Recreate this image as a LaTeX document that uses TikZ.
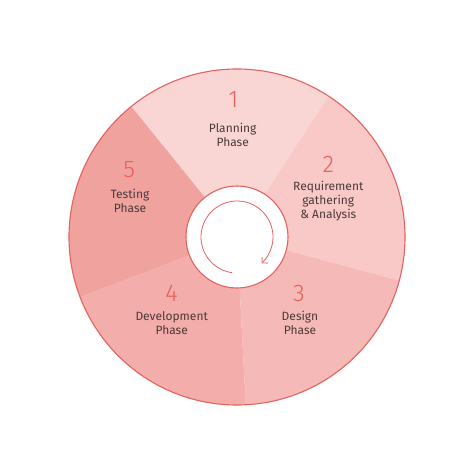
\documentclass[tikz,border=0pt]{standalone}
\usepackage{fontspec}
\setmainfont{Fira Sans}
\newfontfamily\numfont{Fira Sans Light}
\usetikzlibrary{arrows.meta}
\definecolor{segA}{HTML}{F9D6D4}
\definecolor{segB}{HTML}{F8C9C6}
\definecolor{segC}{HTML}{F5BAB7}
\definecolor{segD}{HTML}{F3ADAA}
\definecolor{segE}{HTML}{F0A29E}
\definecolor{rim}{HTML}{E5625E}
\definecolor{numcol}{HTML}{E8605B}
\definecolor{txt}{HTML}{4B3A3A}
\tikzset{
  numlabel/.style={text=numcol, font=\numfont\fontsize{24}{24}\selectfont, inner sep=0pt},
  phaselabel/.style={text=txt, font=\fontsize{12}{14}\selectfont, align=center, inner sep=0pt},
  wedge/.style={draw=none},
}
\begin{document}
\begin{tikzpicture}[x=1pt,y=1pt]
\useasboundingbox[fill=white] (-237,-237) rectangle (237,237);
% wedges
\fill[segA] (0,0) -- (57:168pt) arc[start angle=57, end angle=129, radius=168pt] -- cycle;
\fill[segB] (0,0) -- (-15:168pt) arc[start angle=-15, end angle=57, radius=168pt] -- cycle;
\fill[segC] (0,0) -- (-87:168pt) arc[start angle=-87, end angle=-15, radius=168pt] -- cycle;
\fill[segD] (0,0) -- (-159:168pt) arc[start angle=-159, end angle=-87, radius=168pt] -- cycle;
\fill[segE] (0,0) -- (129:168pt) arc[start angle=129, end angle=201, radius=168pt] -- cycle;
\node[circle, draw=rim, line width=1.1pt, minimum size=336pt, inner sep=0pt] (outer) at (0,0) {};
\node[circle, draw=rim, fill=white, line width=1.1pt, minimum size=102pt, inner sep=0pt] (hub) at (0,0) {};
\draw[rim, line width=0.8pt, -{Straight Barb[length=4pt, width=8pt]}] (262:36pt) arc[start angle=262, end angle=-47, radius=36pt];
% labels
\node[numlabel] (n1) at (-3.7,137) {1};
\node[phaselabel] (t1) at (-4.3,102.3) {Planning\\Phase};
\node[numlabel] (n2) at (91.3,72.7) {2};
\node[phaselabel] (t2) at (91.3,36.2) {Requirement\\gathering\\\&~Analysis};
\node[numlabel] (n3) at (62,-56.3) {3};
\node[phaselabel] (t3) at (63,-86) {Design\\Phase};
\node[numlabel] (n4) at (-65.3,-56.3) {4};
\node[phaselabel] (t4) at (-65.3,-86) {Development\\Phase};
\node[numlabel] (n5) at (-107.7,67) {5};
\node[phaselabel] (t5) at (-107,36.4) {Testing\\Phase};
\end{tikzpicture}
\end{document}
